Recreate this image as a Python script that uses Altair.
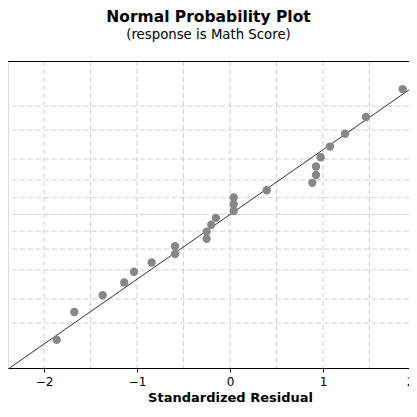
import altair as alt
import pandas as pd
from statistics import NormalDist

# Standardized residuals, sorted
residuals = [-1.863, -1.674, -1.369, -1.137, -1.032, -0.842, -0.591, -0.591,
             -0.251, -0.251, -0.201, -0.151, 0.040, 0.040, 0.040, 0.395,
             0.885, 0.925, 0.925, 0.975, 1.075, 1.237, 1.462, 1.857]
# Plotting positions (percent)
percents = [2.869, 6.967, 11.066, 15.164, 19.262, 23.361, 27.459, 31.557,
            35.656, 39.754, 43.852, 47.951, 52.049, 56.148, 60.246, 64.344,
            68.443, 72.541, 76.639, 80.738, 84.836, 88.934, 93.033, 97.131]

grid_percents = [5, 10, 20, 30, 40, 50, 60, 70, 80, 90, 95]
grid_residuals = [-2, -1.5, -1, -0.5, 0, 0.5, 1, 1.5]
x_ticks = [-2, -1, 0, 1, 2]
x_domain = [-2.387, 2.011]
percent_bounds = [1, 99]

fit_residuals = [-2.37, 2.37]
fit_percents = [1, 99]

nd = NormalDist()
def z(p):
    return nd.inv_cdf(p / 100.0)

pts = pd.DataFrame({"res": residuals, "pct": percents, "z": [z(p) for p in percents]})
hgrid = pd.DataFrame({"pct": grid_percents, "z": [z(p) for p in grid_percents]})
vgrid = pd.DataFrame({"res": grid_residuals})
fit = pd.DataFrame({"res": fit_residuals, "z": [z(p) for p in fit_percents]})

y_domain = [z(p) for p in percent_bounds]
FONT = "DejaVu Sans"
W, H = 401, 307

xscale = alt.Scale(domain=x_domain, range=[0, 409], nice=False, zero=False)
yscale = alt.Scale(domain=y_domain, nice=False, zero=False)

xaxis = alt.Axis(values=x_ticks, grid=False, domainColor="black", tickColor="black",
                 tickSize=4, labelFont=FONT, labelFontSize=12, labelColor="black",
                 labelPadding=4, title="Standardized Residual", titleFont=FONT,
                 titleFontSize=13, titleFontWeight="bold", titleColor="black",
                 titlePadding=4, titleX=222, format="d", labelFlush=False,
                 labelOverlap=False, labelBound=False,
                 labelOffset=alt.ConditionalAxisNumber(
                     condition={"test": "datum.value == 2", "value": -6}, value=0))

gridstyle = dict(color="#cfcfcf", strokeDash=[5, 3], strokeWidth=1)

h = alt.Chart(hgrid).mark_rule(**gridstyle).encode(
    y=alt.Y("z:Q", scale=yscale, axis=None))
v = alt.Chart(vgrid).mark_rule(**gridstyle).encode(
    x=alt.X("res:Q", scale=xscale, axis=xaxis))
top = alt.Chart(vgrid).mark_rule(color="black", strokeWidth=1).encode(
    x=alt.value(0), x2=alt.value(W), y=alt.value(0.5))
line = alt.Chart(fit).mark_line(color="#333333", strokeWidth=1, clip=True).encode(
    x=alt.X("res:Q", scale=xscale, axis=xaxis), y=alt.Y("z:Q", scale=yscale, axis=None))
points = alt.Chart(pts).mark_circle(size=70, color="#878787", opacity=1, clip=True).encode(
    x=alt.X("res:Q", scale=xscale, axis=xaxis), y=alt.Y("z:Q", scale=yscale, axis=None))

chart = alt.layer(h, v, top, line, points).properties(
    width=W, height=H,
    autosize=alt.AutoSizeParams(type="none"),
    padding={"left": 0, "top": 53, "right": 0, "bottom": 41},
    title=alt.TitleParams("Normal Probability Plot", subtitle="(response is Math Score)",
                          font=FONT, fontSize=15.5, fontWeight="bold", color="black",
                          subtitleFont=FONT, subtitleFontSize=13.3, subtitleColor="black",
                          subtitlePadding=3, anchor="middle", offset=19),
).configure_view(stroke=None).configure(background="white")

chart.save("out.html", embed_options={"renderer": "svg", "actions": False})
